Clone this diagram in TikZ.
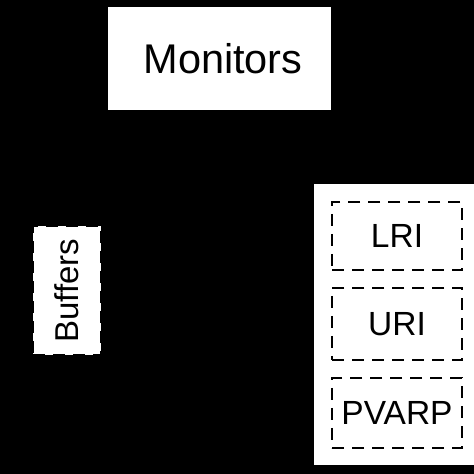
\documentclass[tikz,border=0pt]{standalone}
\usepackage{fontspec}
\setmainfont{Liberation Sans}
\begin{document}
\begin{tikzpicture}[x=1pt,y=1pt,
  box/.style={fill=white,draw=none,inner sep=0pt,anchor=center},
  dbox/.style={fill=white,draw=black,line width=2pt,dash pattern=on 12pt off 8pt,inner sep=0pt,anchor=center}]
\fill[black] (0,0) rectangle (474,474);
\useasboundingbox (0,0) rectangle (474,474);
\node[box,minimum width=223pt,minimum height=103pt] (mon) at (219.5,415.5) {};
\node[font=\fontsize{41.5}{41.5}\selectfont,inner sep=0pt] (montext) at ([xshift=3.5pt]mon.center) {Monitors};
\node[box,minimum width=160pt,minimum height=281pt] (panel) at (394,149.5) {};
\node[dbox,minimum width=130pt,minimum height=68pt,font=\fontsize{33.5}{33.5}\selectfont] (lri) at (397,238) {LRI};
\node[dbox,minimum width=130pt,minimum height=72pt,font=\fontsize{33.5}{33.5}\selectfont] (uri) at (397,150) {URI};
\node[dbox,minimum width=130pt,minimum height=70pt,font=\fontsize{33.5}{33.5}\selectfont] (pvarp) at (397,61) {PVARP};
\node[dbox,minimum width=68pt,minimum height=129pt] (buf) at (67,183.5) {};
\node[rotate=90,font=\fontsize{33}{33}\selectfont,inner sep=0pt] (buftext) at (buf.center) {Buffers};
\end{tikzpicture}
\end{document}
